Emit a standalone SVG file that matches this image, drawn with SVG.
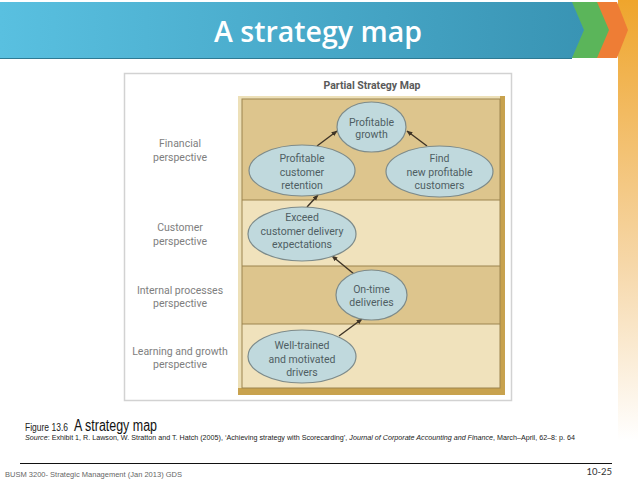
<svg xmlns="http://www.w3.org/2000/svg" width="638" height="479" viewBox="0 0 638 479">
<defs>
<linearGradient id="blueG" x1="0" y1="0" x2="1" y2="0">
<stop offset="0" stop-color="#59C0E0"/><stop offset="1" stop-color="#3994B4"/>
</linearGradient>
<linearGradient id="barG" x1="0" y1="0" x2="0" y2="1">
<stop offset="0" stop-color="#EFA52C"/><stop offset="0.55" stop-color="#F6D7A8"/><stop offset="0.92" stop-color="#FFFFFF"/>
</linearGradient>
<marker id="ah" viewBox="0 0 10 10" refX="9" refY="5" markerWidth="6" markerHeight="6" orient="auto" markerUnits="userSpaceOnUse">
<path d="M0,1 L10,5 L0,9 z" fill="#3E3426"/>
</marker>
<style>
.node ellipse{fill:#C0D9DD;stroke:#7D8B8B;stroke-width:1.2}
.node text{font-family:Roboto,"Liberation Sans",sans-serif;font-size:10.5px;fill:#4F5E63;text-anchor:middle}
.lab{font-family:Roboto,"Liberation Sans",sans-serif;font-size:10.5px;fill:#7E7E7E;text-anchor:middle}
.conn line{stroke:#3E3426;stroke-width:1.4;marker-end:url(#ah)}
.dark{fill:#DDC58D}
.light{fill:#F0E2BC}
</style>
</defs>
<rect width="638" height="479" fill="#FFFFFF"/>
<!-- right vertical bar -->
<rect x="618" y="0" width="20" height="479" fill="url(#barG)"/>
<!-- header -->
<polygon points="580,2 617,2 628,30 617,58 580,58" fill="#EE7D35"/>
<polygon points="556,2 597,2 609,30 597,58 556,58" fill="#5BB55A"/>
<polygon points="0,2 572,2 584,30 572,58 0,58" fill="url(#blueG)"/>
<line x1="0" y1="58.5" x2="572" y2="58.5" stroke="#2E7A93" stroke-width="1"/>
<text x="318" y="42" font-family="'Open Sans',Lato,sans-serif" font-weight="600" font-size="28.5" fill="#FFFFFF" text-anchor="middle">A strategy map</text>
<!-- figure frame -->
<rect x="124.5" y="73.5" width="387" height="327" fill="#FFFFFF" stroke="#D2D2D2" stroke-width="1.5"/>
<text x="372" y="89" font-family="Roboto,'Liberation Sans',sans-serif" font-weight="bold" font-size="10.5" fill="#5A5A5A" text-anchor="middle">Partial Strategy Map</text>
<!-- panel -->
<rect x="238" y="96" width="267" height="299" fill="#C8A24E"/>
<rect x="238" y="96" width="262" height="292" fill="#EDE0B8"/>
<rect x="242" y="99" width="258" height="101" class="dark"/>
<rect x="242" y="200" width="258" height="66" class="light"/>
<rect x="242" y="266" width="258" height="58" class="dark"/>
<rect x="242" y="324" width="258" height="64" class="light"/>
<rect x="242" y="99" width="258" height="289" fill="none" stroke="#9C844E" stroke-width="1"/>
<line x1="242" y1="200" x2="500" y2="200" stroke="#9C844E" stroke-width="1"/>
<line x1="242" y1="266" x2="500" y2="266" stroke="#9C844E" stroke-width="1"/>
<line x1="242" y1="324" x2="500" y2="324" stroke="#9C844E" stroke-width="1"/>
<!-- left labels -->
<text class="lab" x="180" y="147">Financial</text>
<text class="lab" x="180" y="161">perspective</text>
<text class="lab" x="180" y="231">Customer</text>
<text class="lab" x="180" y="245">perspective</text>
<text class="lab" x="180" y="294">Internal processes</text>
<text class="lab" x="180" y="307">perspective</text>
<text class="lab" x="180" y="355">Learning and growth</text>
<text class="lab" x="180" y="368">perspective</text>
<!-- connectors -->
<g id="connectors" class="conn">
<line x1="317" y1="146" x2="337" y2="131"/>
<line x1="427" y1="146" x2="407" y2="131"/>
<line x1="307" y1="207" x2="318" y2="195"/>
<line x1="354" y1="274" x2="332" y2="256"/>
<line x1="339" y1="336" x2="362" y2="319"/>
</g>
<!-- nodes -->
<g id="growth" class="node">
<ellipse cx="371.5" cy="127" rx="34.5" ry="25"/>
<text x="371.5" y="126">Profitable</text>
<text x="371.5" y="138">growth</text>
</g>
<g id="retention" class="node">
<ellipse cx="302" cy="170.5" rx="53" ry="25.5"/>
<text x="302" y="162">Profitable</text>
<text x="302" y="175.5">customer</text>
<text x="302" y="189">retention</text>
</g>
<g id="find" class="node">
<ellipse cx="439.5" cy="171.5" rx="53.5" ry="25.5"/>
<text x="439.5" y="162">Find</text>
<text x="439.5" y="175.5">new profitable</text>
<text x="439.5" y="189">customers</text>
</g>
<g id="exceed" class="node">
<ellipse cx="302" cy="234" rx="54" ry="27"/>
<text x="302" y="221">Exceed</text>
<text x="302" y="235">customer delivery</text>
<text x="302" y="248">expectations</text>
</g>
<g id="ontime" class="node">
<ellipse cx="371.5" cy="295" rx="35.5" ry="25"/>
<text x="371.5" y="293">On-time</text>
<text x="371.5" y="306">deliveries</text>
</g>
<g id="drivers" class="node">
<ellipse cx="302" cy="356.5" rx="54" ry="26.5"/>
<text x="302" y="349">Well-trained</text>
<text x="302" y="363">and motivated</text>
<text x="302" y="376">drivers</text>
</g>
<!-- caption -->
<text x="25" y="431" font-family="'Liberation Sans',Arial,sans-serif" font-size="10.5" fill="#222" textLength="43" lengthAdjust="spacingAndGlyphs">Figure 13.6</text>
<text x="74" y="431" font-family="'Liberation Sans Narrow','Liberation Sans',sans-serif" font-size="16" fill="#111" textLength="83" lengthAdjust="spacingAndGlyphs">A strategy map</text>
<text x="25" y="440" font-family="'Liberation Sans',Arial,sans-serif" font-size="6.5" fill="#222" textLength="550" lengthAdjust="spacingAndGlyphs"><tspan font-style="italic">Source</tspan>: Exhibit 1, R. Lawson, W. Stratton and T. Hatch (2005), ‘Achieving strategy with Scorecarding’, <tspan font-style="italic">Journal of Corporate Accounting and Finance</tspan>, March–April, 62–8: p. 64</text>
<!-- footer -->
<line x1="20" y1="463.5" x2="612" y2="463.5" stroke="#111" stroke-width="1"/>
<text x="5" y="477" font-family="'Liberation Sans',Arial,sans-serif" font-size="8" fill="#666" textLength="177" lengthAdjust="spacingAndGlyphs">BUSM 3200- Strategic Management (Jan 2013) GDS</text>
<text x="612" y="475" font-family="Lato,'Liberation Sans',sans-serif" font-size="9.5" fill="#333" text-anchor="end">10-25</text>
</svg>
